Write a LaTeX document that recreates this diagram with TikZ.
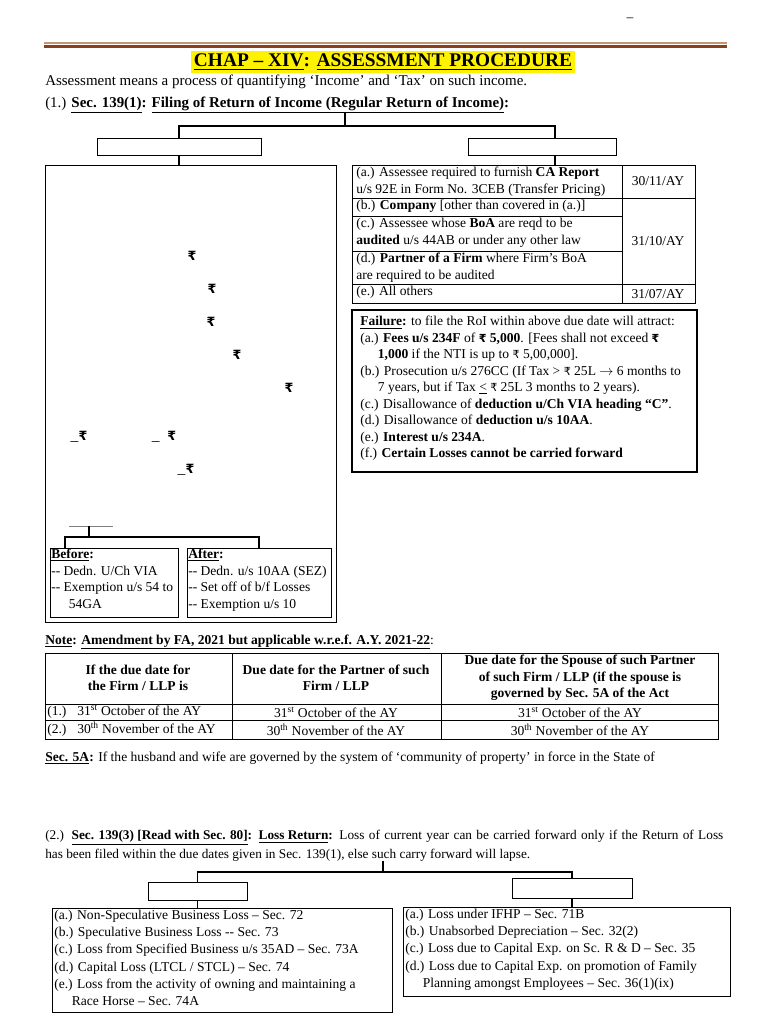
\documentclass[tikz,border=0pt]{standalone}
\usepackage{fontspec}
\setmainfont{Liberation Serif}
\newfontfamily\rupeefont[Scale=0.82]{DejaVu Sans}
\newcommand{\rs}{{\rupeefont ₹}}
\usetikzlibrary{fit}
\definecolor{rulebrown}{RGB}{140,62,22}
\definecolor{rulelight}{RGB}{196,150,120}

\begin{document}
\begin{tikzpicture}[x=0.775pt, y=-0.775pt,
  every node/.style={inner sep=0pt},
  body/.style={font=\fontsize{10.5}{12.8}\selectfont},
  line/.style={body, anchor=west},
  para/.style={body, anchor=north west, align=left},
  hdr/.style={align=center, font=\fontsize{10.5}{12.8}\selectfont\bfseries},
  frame/.style={draw, line width=0.7pt},
  link/.style={line width=0.9pt}]
\useasboundingbox (0,0) rectangle (768,1024);

% Kopf der Seite
\node[body] (dash) at (630,20) {–};
\draw[rulelight, line width=1pt] (44,43) -- (727,43);
\draw[rulebrown, line width=2.6pt] (44,46.5) -- (727,46.5);
\node[fill=yellow, inner xsep=2pt, inner ysep=2.5pt, font=\fontsize{15}{18}\selectfont\bfseries] (title) at (383,62)
    {\underline{CHAP – XIV}: \underline{ASSESSMENT PROCEDURE}};
\node[line, font=\fontsize{11.6}{14}\selectfont] (intro) at (45,82) {Assessment means a process of quantifying ‘Income’ and ‘Tax’ on such income.};
\node[line, font=\fontsize{11.6}{14}\selectfont] (sec1) at (45,105) {(1.) \textbf{\underline{Sec. 139(1)}: \underline{Filing of Return of Income (Regular Return of Income)}:}};

% Baum unter Sec. 139(1)
\node[frame, fit={(97,138) (261,155)}] (dueleft) {};
\node[frame, fit={(468,138) (616,155)}] (dueright) {};
\coordinate (top1) at (345,126);
\coordinate (rstem) at (555,138);
\coordinate (rfoot) at (555,155);
\draw[link] (sec1.south -| top1) -- (top1);
\draw[link] (dueleft.north) |- (top1) -| (rstem);

\node[frame, fit={(45,165) (336,622)}] (incomebox) {};
\draw[link] (dueleft.south) -- (dueleft.south |- incomebox.north);

% nur die Rupie-Zeichen sind sichtbar
\foreach \px/\py [count=\i] in {192/256, 212/289, 211/322, 237/355, 289/388}
  \node[font=\fontsize{12}{14}\selectfont] (rupee\i) at (\px,\py) {\textbf{\rs}};
\node[font=\fontsize{12}{14}\selectfont] (blank1) at (79,437) {\_\textbf{\rs}};
\node[font=\fontsize{12}{14}\selectfont] (blank2) at (164,437) {\_\hspace{6pt}\textbf{\rs}};
\node[font=\fontsize{12}{14}\selectfont] (blank3) at (186,470) {\_\textbf{\rs}};

\coordinate (g1) at (69,526);
\coordinate (g2) at (113,526);
\coordinate (brk) at (89,537);
\coordinate (bl) at (65,548);
\draw[gray, line width=0.6pt] (g1) -- (g2);
\node[frame, fit={(50,548) (178,617)}] (before) {};
\node[frame, fit={(187,548) (331,617)}] (after) {};
\draw[link] (g1 -| brk) -- (brk);
\draw[link] (bl) |- (brk) -| (after.north);
\node[para] (beforetxt) at (51,549) {\textbf{\underline{Before}:}\\-{}- Dedn. U/Ch VIA\\-{}- Exemption u/s 54 to\\\hspace*{1.3em}54GA};
\node[para] (aftertxt) at (188,549) {\textbf{\underline{After}:}\\-{}- Dedn. u/s 10AA (SEZ)\\-{}- Set off of b/f Losses\\-{}- Exemption u/s 10};

% Tabelle der Fristen
\node[frame, fit={(352,165) (695,303)}] (datetab) {};
\draw[link] (rfoot) -- (rfoot |- datetab.north);
\draw[line width=0.7pt] (352,198) -- (695,198);
\draw[line width=0.7pt] (352,216) -- (622,216);
\draw[line width=0.7pt] (352,251) -- (622,251);
\draw[line width=0.7pt] (352,284) -- (695,284);
\draw[line width=0.7pt] (622,165) -- (622,303);
\node[para] (rowa) at (356,167) {(a.) Assessee required to furnish \textbf{CA Report}\\u/s 92E in Form No. 3CEB (Transfer Pricing)};
\node[para] (rowb) at (356,200) {(b.) \textbf{Company} [other than covered in (a.)]};
\node[para] (rowc) at (356,218) {(c.) Assessee whose \textbf{BoA} are reqd to be\\\textbf{audited} u/s 44AB or under any other law};
\node[para] (rowd) at (356,253) {(d.) \textbf{Partner of a Firm} where Firm’s BoA\\are required to be audited};
\node[para] (rowe) at (356,286) {(e.) All others};
\node[body] (datea) at (658,181) {30/11/AY};
\node[body] (dateb) at (658,241) {31/10/AY};
\node[body] (datee) at (658,294) {31/07/AY};

% Folgen bei Versäumnis
\node[draw, line width=1.6pt, fit={(352,310) (697,472)}] (failbox) {};
\node[para] (failtxt) at (360,316) {\textbf{\underline{Failure}:} to file the RoI within above due date will attract:\\
(a.) \textbf{Fees u/s 234F} of \textbf{\rs\ 5,000}. [Fees shall not exceed \textbf{\rs}\\
\hspace*{1.3em}\textbf{1,000} if the NTI is up to \rs\ 5,00,000].\\
(b.) Prosecution u/s 276CC (If Tax > \rs\ 25L $\rightarrow$ 6 months to\\
\hspace*{1.3em}7 years, but if Tax \underline{<} \rs\ 25L 3 months to 2 years).\\
(c.) Disallowance of \textbf{deduction u/Ch VIA heading “C”}.\\
(d.) Disallowance of \textbf{deduction u/s 10AA}.\\
(e.) \textbf{Interest u/s 234A}.\\
(f.) \textbf{Certain Losses cannot be carried forward}};

% Hinweis FA 2021
\node[line] (note) at (45,642) {\textbf{\underline{Note}:} \textbf{\underline{Amendment by FA, 2021 but applicable w.r.e.f. A.Y. 2021-22}}:};
\node[frame, fit={(45,653) (718,739)}] (notetab) {};
\draw[line width=0.7pt] (45,704) -- (718,704);
\draw[line width=0.7pt] (45,720) -- (718,720);
\draw[line width=0.7pt] (232,653) -- (232,739);
\draw[line width=0.7pt] (441,653) -- (441,739);
\node[hdr] (head1) at (138,678) {If the due date for\\the Firm / LLP is};
\node[hdr] (head2) at (336,678) {Due date for the Partner of such\\Firm / LLP};
\node[hdr] (head3) at (580,678) {Due date for the Spouse of such Partner\\of such Firm / LLP (if the spouse is\\governed by Sec. 5A of the Act};
\node[line] (firm1) at (47,712) {(1.)\hspace{0.8em}31\textsuperscript{st} October of the AY};
\node[line] (firm2) at (47,729.5) {(2.)\hspace{0.8em}30\textsuperscript{th} November of the AY};
\node[body] (partner1) at (336,712) {31\textsuperscript{st} October of the AY};
\node[body] (partner2) at (336,729.5) {30\textsuperscript{th} November of the AY};
\node[body] (spouse1) at (580,712) {31\textsuperscript{st} October of the AY};
\node[body] (spouse2) at (580,729.5) {30\textsuperscript{th} November of the AY};

\node[line] (sec5a) at (45,758) {\textbf{\underline{Sec. 5A}:} If the husband and wife are governed by the system of ‘community of property’ in force in the State of};

% Sec. 139(3)
\node[line, font=\fontsize{10.3}{12.8}\selectfont] (sec3a) at (45,838) {\makebox[525.5pt][s]{(2.) \textbf{\underline{Sec. 139(3) [Read with Sec. 80]}: \underline{Loss Return}:} Loss of current year can be carried forward only if the Return of Loss}};
\node[line, font=\fontsize{10.3}{12.8}\selectfont] (sec3b) at (45,855) {has been filed within the due dates given in Sec. 139(1), else such carry forward will lapse.};

\node[frame, fit={(148,882) (247,900)}] (carryleft) {};
\node[frame, fit={(512,878) (632,898)}] (carryright) {};
\coordinate (top2) at (383,872);
\draw[link] (sec3b.south -| top2) -- (top2);
\draw[link] (carryleft.north) |- (top2) -| (carryright.north);

\node[frame, fit={(52,908) (392,1012)}] (lossleft) {};
\node[frame, fit={(403,907) (730,996)}] (lossright) {};
\draw[link] (carryleft.south) -- (carryleft.south |- lossleft.north);
\draw[link] (carryright.south) -- (carryright.south |- lossright.north);
\node[para, font=\fontsize{10.5}{13.3}\selectfont] (losslefttxt) at (54,910) {(a.) Non-Speculative Business Loss – Sec. 72\\
(b.) Speculative Business Loss -{}- Sec. 73\\
(c.) Loss from Specified Business u/s 35AD – Sec. 73A\\
(d.) Capital Loss (LTCL / STCL) – Sec. 74\\
(e.) Loss from the activity of owning and maintaining a\\
\hspace*{1.3em}Race Horse – Sec. 74A};
\node[para, font=\fontsize{10.5}{13.3}\selectfont] (lossrighttxt) at (405,909) {(a.) Loss under IFHP – Sec. 71B\\
(b.) Unabsorbed Depreciation – Sec. 32(2)\\
(c.) Loss due to Capital Exp. on Sc. R \& D – Sec. 35\\
(d.) Loss due to Capital Exp. on promotion of Family\\
\hspace*{1.3em}Planning amongst Employees – Sec. 36(1)(ix)};
\end{tikzpicture}
\end{document}
